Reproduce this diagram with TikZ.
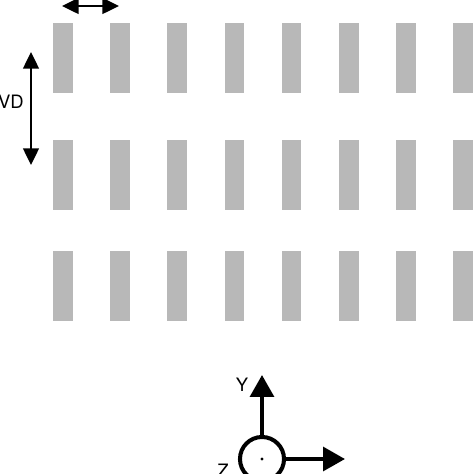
\documentclass[tikz,border=0pt]{standalone}
\usepackage{fontspec}
\setmainfont{TeX Gyre Heros}
\usepackage{tikz}
\usetikzlibrary{calc, arrows.meta, positioning}
\definecolor{bargray}{RGB}{184,184,184}
\tikzset{
  bar/.style={fill=bargray, draw=none},
  dimarrow/.style={line width=1.2pt, {Triangle[length=9.5pt, width=9pt]}-{Triangle[length=9.5pt, width=9pt]}},
  axisarrow/.style={line width=2.3pt, -{Triangle[length=12.5pt, width=13.5pt]}},
  lbl/.style={font=\fontsize{10.5}{12}\selectfont, inner sep=0pt}
}

\begin{document}
\begin{tikzpicture}[x=0.02cm, y=-0.02cm]
\useasboundingbox (0,0) rectangle (474,474);
% bars, three rows of eight
\foreach \top in {23,140,251}
  \foreach \i in {0,...,7}
    \fill[bar] ({53+57.2*\i},\top) rectangle ++(19.5,70);
% pitch and vertical distance
\coordinate (PL) at (62,6);
\coordinate (PR) at (119,6);
\draw[dimarrow] (PL) -- (PR);
\coordinate (VT) at (31,52);
\coordinate (VB) at (31,165);
\draw[dimarrow] (VT) -- (VB);
\node[lbl, anchor=east] (VD) at (24,102) {VD};
% axes
\node[circle, draw, line width=2.3pt, minimum size=40*0.02cm+2.3pt, inner sep=0pt] (O) at (262,459) {};
\fill (O.center) circle (1.6);
\coordinate (Ytip) at (262,375);
\coordinate (Xtip) at (345,459);
\draw[axisarrow] (O.north) -- (Ytip);
\draw[axisarrow] (O.east) -- (Xtip);
\node[lbl] (Y) at (242,385) {Y};
\node[lbl] (Z) at (223,471) {Z};
  \end{tikzpicture}
\end{document}
